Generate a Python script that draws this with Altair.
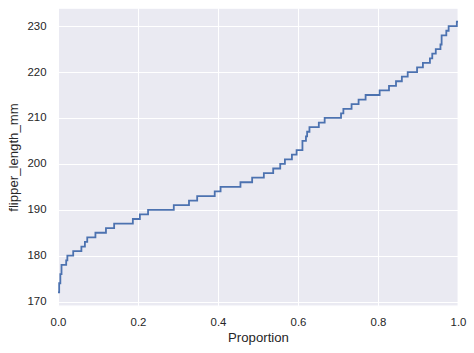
import altair as alt
import pandas as pd

# Unique flipper lengths (mm) and how many penguins have each
flipper_values = [172, 174, 176, 178, 179, 180, 181, 182, 183, 184, 185, 186, 187, 188, 189,
                  190, 191, 192, 193, 194, 195, 196, 197, 198, 199, 200, 201, 202, 203, 205,
                  206, 207, 208, 209, 210, 211, 212, 213, 214, 215, 216, 217, 218, 219, 220,
                  221, 222, 223, 224, 225, 226, 228, 229, 230, 231]
flipper_counts = [1, 1, 1, 4, 1, 5, 7, 3, 2, 7, 9, 7, 16, 6, 7,
                  22, 13, 7, 15, 5, 17, 10, 10, 8, 6, 4, 6, 4, 5, 3,
                  1, 2, 8, 5, 14, 2, 7, 6, 6, 12, 8, 6, 5, 5, 8,
                  5, 6, 2, 3, 4, 1, 4, 2, 7, 1]

y_ticks = [170, 180, 190, 200, 210, 220, 230]
x_ticks = [0.0, 0.2, 0.4, 0.6, 0.8, 1.0]

# ECDF statistic
df = pd.DataFrame({"flipper_length_mm": flipper_values, "count": flipper_counts})
df = df.sort_values("flipper_length_mm")
df["Proportion"] = df["count"].cumsum() / df["count"].sum()
start = pd.DataFrame({"flipper_length_mm": [flipper_values[0]], "count": [0], "Proportion": [0.0]})
ecdf = pd.concat([start, df], ignore_index=True)

text_color = "#262626"
font = "Liberation Sans"

chart = (
    alt.Chart(ecdf)
    .mark_line(interpolate="step-before", color="#4C72B0", strokeWidth=1.8)
    .encode(
        x=alt.X(
            "Proportion:Q",
            scale=alt.Scale(domain=[0, 1], nice=False, zero=False),
            axis=alt.Axis(values=x_ticks, format=".1f", title="Proportion"),
        ),
        y=alt.Y(
            "flipper_length_mm:Q",
            scale=alt.Scale(domain=[169.05, 233.95], nice=False, zero=False),
            axis=alt.Axis(values=y_ticks, format="d", title="flipper_length_mm"),
        ),
        order="Proportion:Q",
    )
    .properties(
        width=400,
        height=298,
        autosize=alt.AutoSizeParams(type="none"),
        padding={"left": 58, "top": 8, "right": 16, "bottom": 47},
        background="white",
    )
    .configure_view(fill="#EAEAF2", stroke="white", strokeWidth=1.3)
    .configure_axis(
        domain=False,
        ticks=False,
        tickSize=0,
        grid=True,
        gridColor="white",
        gridWidth=1,
        labelFlush=False,
        labelOverlap=False,
        labelFont=font,
        labelFontSize=11.4,
        labelColor=text_color,
        titleFont=font,
        titleFontSize=13.2,
        titleFontWeight="normal",
        titleColor=text_color,
    )
    .configure_axisX(labelPadding=10, titlePadding=4)
    .configure_axisY(labelPadding=12, titlePadding=6)
)

chart.save("out.html", embed_options={"renderer": "svg", "actions": False})
